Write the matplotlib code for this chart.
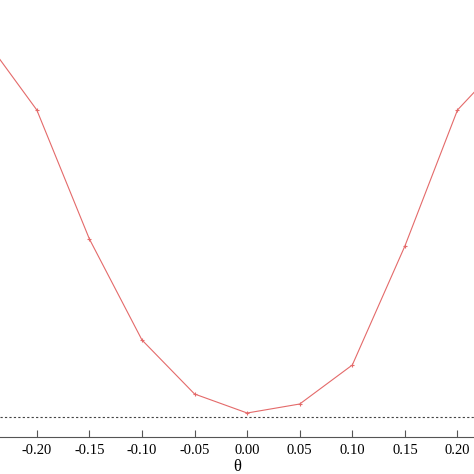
import matplotlib
matplotlib.use("Agg")
import matplotlib.pyplot as plt

# values (y in arbitrary units)
theta = [-0.25, -0.20, -0.15, -0.10, -0.05, 0.00, 0.05, 0.10, 0.15, 0.20, 0.25]
energy = [3.99, 3.27, 1.98, 0.97, 0.43, 0.24, 0.33, 0.72, 1.91, 3.27, 3.83]
baseline = 0.205
xticks = [-0.20, -0.15, -0.10, -0.05, 0.00, 0.05, 0.10, 0.15, 0.20]

plt.rcParams['font.family'] = ['Liberation Serif', 'DejaVu Serif']

fig = plt.figure(figsize=(4.74, 4.74), dpi=100)
ax = fig.add_axes([0, 37 / 474, 1, 437 / 474])

ax.plot(theta, energy, color="#e46a6a", lw=0.8, marker="+", ms=3, mew=0.8)
ax.axhline(baseline, color="#444444", lw=0.8, ls=(0, (2, 2)))

ax.set_xlim(-0.235, 0.2157)
ax.set_ylim(0, 4.37)
ax.set_xticks(xticks)
ax.set_xticklabels(["%.2f" % v for v in xticks], fontsize=10.5)
ax.tick_params(axis="x", direction="in", length=5, width=0.8, color="#555555", pad=5)
ax.set_yticks([])
for s in ["left", "right", "top"]:
    ax.spines[s].set_visible(False)
ax.spines["bottom"].set_color("#555555")
ax.spines["bottom"].set_linewidth(0.8)
ax.set_xlabel("θ", fontsize=12, labelpad=1.5)

fig.savefig("out.png", dpi=100)
